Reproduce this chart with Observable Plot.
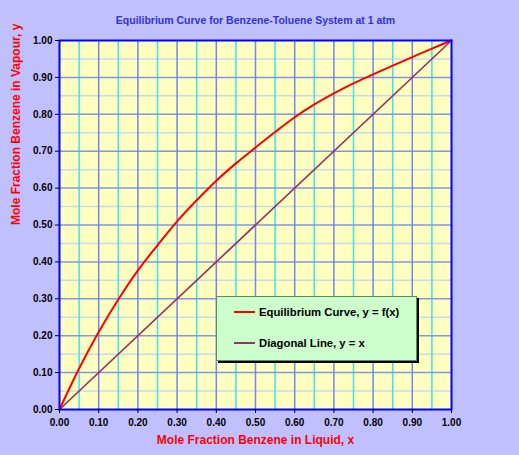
<!DOCTYPE html>
<html>
<head>
<meta charset="utf-8">
<script src="https://cdn.jsdelivr.net/npm/d3@7"></script>
<script src="https://cdn.jsdelivr.net/npm/@observablehq/plot@0.6"></script>
<style>
  body { margin: 0; background: #c0c0ff; font-family: "Liberation Sans", Arial, sans-serif; }
  #chart { position: relative; width: 519px; height: 455px; }
  .legend {
    position: absolute; left: 216px; top: 296px; width: 199px; height: 63px;
    background: #ccffcc; border: 1px solid #5c8f5c; box-shadow: 2px 2px 0 #000;
    font-size: 11.3px; font-weight: bold; color: #000;
  }
  .legend .row { position: absolute; left: 17px; display: flex; align-items: center; }
  .legend .swatch { width: 21px; height: 0; margin-right: 4px; }
</style>
</head>
<body>
<div id="chart"></div>
<script>
// liquid mole fraction x and vapour mole fraction y
const xLiquid = [0, 0.05, 0.10, 0.15, 0.20, 0.25, 0.30, 0.35, 0.40, 0.45, 0.50,
                 0.55, 0.60, 0.65, 0.70, 0.75, 0.80, 0.85, 0.90, 0.95, 1.00]
const yVapour = [0, 0.111, 0.21, 0.298, 0.377, 0.445, 0.51, 0.567, 0.62, 0.667, 0.71,
                 0.752, 0.792, 0.827, 0.857, 0.884, 0.908, 0.932, 0.955, 0.978, 1.00]
const diagX = [0, 1]
const diagY = [0, 1]

const majorTicks = [0, 0.1, 0.2, 0.3, 0.4, 0.5, 0.6, 0.7, 0.8, 0.9, 1.0]
const minorTicks = [0.05, 0.15, 0.25, 0.35, 0.45, 0.55, 0.65, 0.75, 0.85, 0.95]

const title = "Equilibrium Curve for Benzene-Toluene System at 1 atm"
const xLabel = "Mole Fraction Benzene in Liquid, x"
const yLabel = "Mole Fraction Benzene in Vapour, y"
const seriesNames = ["Equilibrium Curve, y = f(x)", "Diagonal Line, y = x"]
const seriesColors = ["#ff0000", "#993366"]

const equilibrium = xLiquid.map((x, i) => ({x, y: yVapour[i]}))
const diagonal = diagX.map((x, i) => ({x, y: diagY[i]}))

let chart = Plot.plot({
    width: 519,
    height: 455,
    marginLeft: 59,
    marginRight: 68,
    marginTop: 40,
    marginBottom: 46,
    style: {
        background: "transparent",
        fontFamily: "Liberation Sans, Arial, sans-serif",
        fontSize: "10px",
        fontWeight: "bold",
        color: "#000",
        overflow: "visible"
    },
    x: { domain: [0, 1] },
    y: { domain: [0, 1] },
    marks: [
        Plot.frame({ fill: "#ffffc0" }),
        Plot.ruleY(minorTicks, { stroke: "#c4dce8", strokeWidth: 1.5 }),
        Plot.ruleX(minorTicks, { stroke: "#40e0f0", strokeWidth: 1.5 }),
        Plot.ruleY(majorTicks.slice(1, -1), { stroke: "#7f98e4", strokeWidth: 1.5 }),
        Plot.ruleX(majorTicks.slice(1, -1), { stroke: "#7088e8", strokeWidth: 1.5 }),
        Plot.line(diagonal, { x: "x", y: "y", stroke: seriesColors[1], strokeWidth: 1.7 }),
        Plot.line(equilibrium, { x: "x", y: "y", curve: "catmull-rom", stroke: seriesColors[0], strokeWidth: 2 }),
        Plot.frame({ stroke: "#0000ff", strokeWidth: 2 }),
        Plot.axisX({ ticks: majorTicks, tickFormat: d3.format(".2f"), tickSize: 4, tickPadding: 5, label: null }),
        Plot.axisY({ ticks: majorTicks, tickFormat: d3.format(".2f"), tickSize: 4, tickPadding: 3, label: null }),
        Plot.text([title], { frameAnchor: "top", dy: -24, fill: "#3333cc", fontSize: 10.5, fontWeight: "bold" }),
        Plot.text([xLabel], { frameAnchor: "bottom", dy: 34, fill: "#ff0000", fontSize: 12, fontWeight: "bold" }),
        Plot.text([yLabel], { frameAnchor: "left", dx: -43, rotate: -90, fill: "#ff0000", fontSize: 12, fontWeight: "bold" })
    ]
})

d3.select("#chart").append(() => chart)

// legend box
const legend = d3.select("#chart").append("div").attr("class", "legend")
seriesNames.forEach((name, i) => {
    const row = legend.append("div").attr("class", "row").style("top", (9 + i * 31) + "px")
    row.append("div").attr("class", "swatch").style("border-top", `2px solid ${seriesColors[i]}`)
    row.append("span").text(name)
})
</script>
</body>
</html>
